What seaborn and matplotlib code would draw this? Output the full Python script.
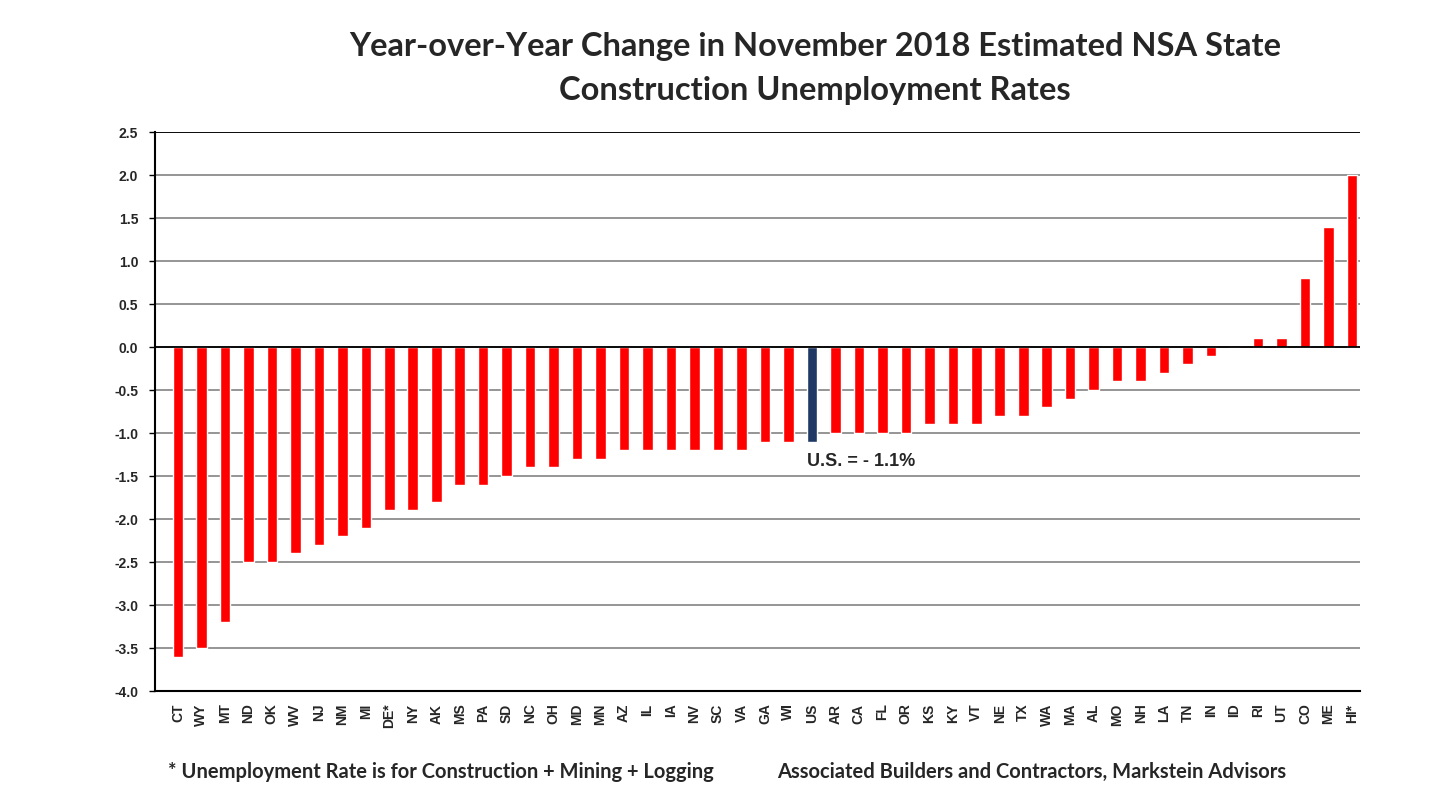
import numpy as np
import pandas as pd
import seaborn as sns
import matplotlib.pyplot as plt

# State codes ordered as in the chart
states = ["CT", "WY", "MT", "ND", "OK", "WV", "NJ", "NM", "MI", "DE*", "NY", "AK", "MS",
          "PA", "SD", "NC", "OH", "MD", "MN", "AZ", "IL", "IA", "NV", "SC", "VA", "GA",
          "WI", "US", "AR", "CA", "FL", "OR", "KS", "KY", "VT", "NE", "TX", "WA", "MA",
          "AL", "MO", "NH", "LA", "TN", "IN", "ID", "RI", "UT", "CO", "ME", "HI*"]
# Year-over-year change in rate (percentage points)
changes = [-3.6, -3.5, -3.2, -2.5, -2.5, -2.4, -2.3, -2.2, -2.1, -1.9, -1.9, -1.8, -1.6,
           -1.6, -1.5, -1.4, -1.4, -1.3, -1.3, -1.2, -1.2, -1.2, -1.2, -1.2, -1.2, -1.1,
           -1.1, -1.1, -1.0, -1.0, -1.0, -1.0, -0.9, -0.9, -0.9, -0.8, -0.8, -0.7, -0.6,
           -0.5, -0.4, -0.4, -0.3, -0.2, -0.1, 0.0, 0.1, 0.1, 0.8, 1.4, 2.0]
y_ticks = np.arange(-4.0, 2.51, 0.5)

df = pd.DataFrame({"State": states, "Change": changes})
df["Group"] = np.where(df["State"] == "US", "US", "State")

sns.set_style("white")
fig = plt.figure(figsize=(14.4, 8.08), dpi=100)
ax = fig.add_axes([0.1076, 0.1448, 0.8368, 0.6918])

sns.barplot(data=df, x="State", y="Change", hue="Group",
            palette={"State": "#FF0000", "US": "#1F3864"}, saturation=1,
            dodge=False, width=0.45, legend=False, ax=ax, zorder=3)

# Horizontal gridlines
for t in y_ticks:
    ax.axhline(t, color="#8C8C8C", lw=1.3, zorder=1)
ax.axhline(0, color="black", lw=1.3, zorder=4)
ax.axhline(2.5, color="black", lw=1.3, zorder=4)

ax.set_ylim(-4.0, 2.5)
ax.set_xlim(-0.98, 50.34)
ax.set_yticks(y_ticks)
ax.set_yticklabels([f"{t:.1f}" for t in y_ticks], fontsize=10, fontweight="bold",
                   family="Liberation Sans")
ax.tick_params(axis="y", length=4, width=1, left=True, color="black", pad=8)
ax.tick_params(axis="x", length=0, pad=9)
plt.setp(ax.get_xticklabels(), rotation=90, fontsize=10, fontweight="bold",
         family="Liberation Sans")
ax.set_xlabel("")
ax.set_ylabel("")

for side in ["top", "right"]:
    ax.spines[side].set_visible(False)
for side in ["left", "bottom"]:
    ax.spines[side].set_color("black")
    ax.spines[side].set_linewidth(1.5)

us_idx = states.index("US")
ax.text(us_idx - 0.2, changes[us_idx] - 0.13, "U.S. = - 1.1%", fontsize=13,
        fontweight="bold", family="Liberation Sans", va="top", ha="left", zorder=5)

fig.text(0.566, 0.942, "Year-over-Year Change in November 2018 Estimated NSA State",
         ha="center", va="center", fontsize=23.5, fontweight="bold", family="Lato")
fig.text(0.566, 0.888, "Construction Unemployment Rates",
         ha="center", va="center", fontsize=23.5, fontweight="bold", family="Lato")

fig.text(0.117, 0.045, "* Unemployment Rate is for Construction + Mining + Logging",
         ha="left", va="center", fontsize=14.5, fontweight="bold", family="Lato")
fig.text(0.540, 0.045, "Associated Builders and Contractors, Markstein Advisors",
         ha="left", va="center", fontsize=14.5, fontweight="bold", family="Lato")

fig.savefig("out.png", dpi=100)
